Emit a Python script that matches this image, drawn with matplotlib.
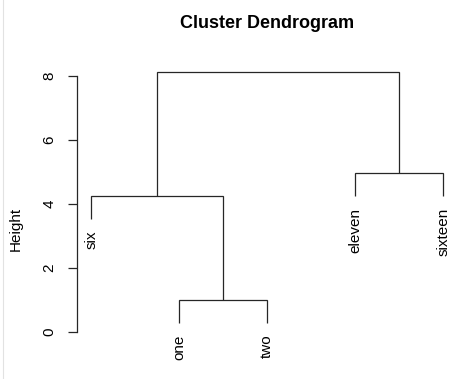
import matplotlib
matplotlib.use("Agg")
import matplotlib.pyplot as plt
from matplotlib.lines import Line2D

plt.rcParams['font.family'] = ['Liberation Sans', 'DejaVu Sans']

# leaf order (left to right) and merges (left child, right child, height)
leaf_labels = ["six", "one", "two", "eleven", "sixteen"]
merge_left = ["one", "six", "eleven", "m1"]
merge_right = ["two", "m0", "sixteen", "m2"]
merge_height = [1.0, 4.24, 4.96, 8.13]
yticks = [0, 2, 4, 6, 8]

W, H = 474, 379
fig = plt.figure(figsize=(W / 100, H / 100), dpi=100)
# axes placement in pixels
x_left_px, x_right_px = 77, 457.2
y_bottom_px, y_top_px = 348, 60
ax = fig.add_axes([x_left_px / W, 1 - y_bottom_px / H,
                   (x_right_px - x_left_px) / W, (y_bottom_px - y_top_px) / H])
n = len(leaf_labels)
pad = 0.04 * (n - 1)
ax.set_xlim(1 - pad, n + pad)
ax.set_ylim(-0.5, 8.5)

hang = 0.1 * (max(merge_height) - min(merge_height))
lc = '#262626'
lw = 0.9

xpos = {lab: i + 1 for i, lab in enumerate(leaf_labels)}
ypos = {}
for k, (a, b, h) in enumerate(zip(merge_left, merge_right, merge_height)):
    name = "m%d" % k
    for c in (a, b):
        if c in leaf_labels:
            ypos[c] = h - hang
    xa, xb = xpos[a], xpos[b]
    ya, yb = ypos[a], ypos[b]
    ax.plot([xa, xa, xb, xb], [ya, h, h, yb], color=lc, lw=lw,
            solid_capstyle='butt', solid_joinstyle='miter', clip_on=False)
    xpos[name] = (xa + xb) / 2
    ypos[name] = h

for lab in leaf_labels:
    ax.annotate(lab, xy=(xpos[lab], ypos[lab]), xytext=(0, -8.3),
                textcoords='offset points', rotation=90,
                rotation_mode='anchor', ha='right', va='center',
                fontsize=11, color='black', annotation_clip=False)

for s in ['top', 'right', 'bottom']:
    ax.spines[s].set_visible(False)
ax.spines['left'].set_bounds(0, 8)
ax.spines['left'].set_color(lc)
ax.spines['left'].set_linewidth(lw)
ax.set_xticks([])
ax.set_yticks(yticks)
ax.set_yticklabels([str(t) for t in yticks], rotation=90, va='center')
ax.tick_params(axis='y', length=6.5, width=lw, color=lc, pad=8.5, labelsize=11)
ax.patch.set_alpha(0)

fig.text(267 / W, 1 - 24 / H, "Cluster Dendrogram", ha='center', va='center',
         fontsize=13, fontweight='bold')
fig.text(16 / W, 1 - 229 / H, "Height", ha='center', va='center',
         rotation=90, fontsize=11)

# faint window border at the left edge
fig.add_artist(Line2D([3 / W, 3 / W], [0, 1], transform=fig.transFigure,
                      color='#e2e2e2', lw=0.8))

fig.savefig("out.png", dpi=100, facecolor='white')
